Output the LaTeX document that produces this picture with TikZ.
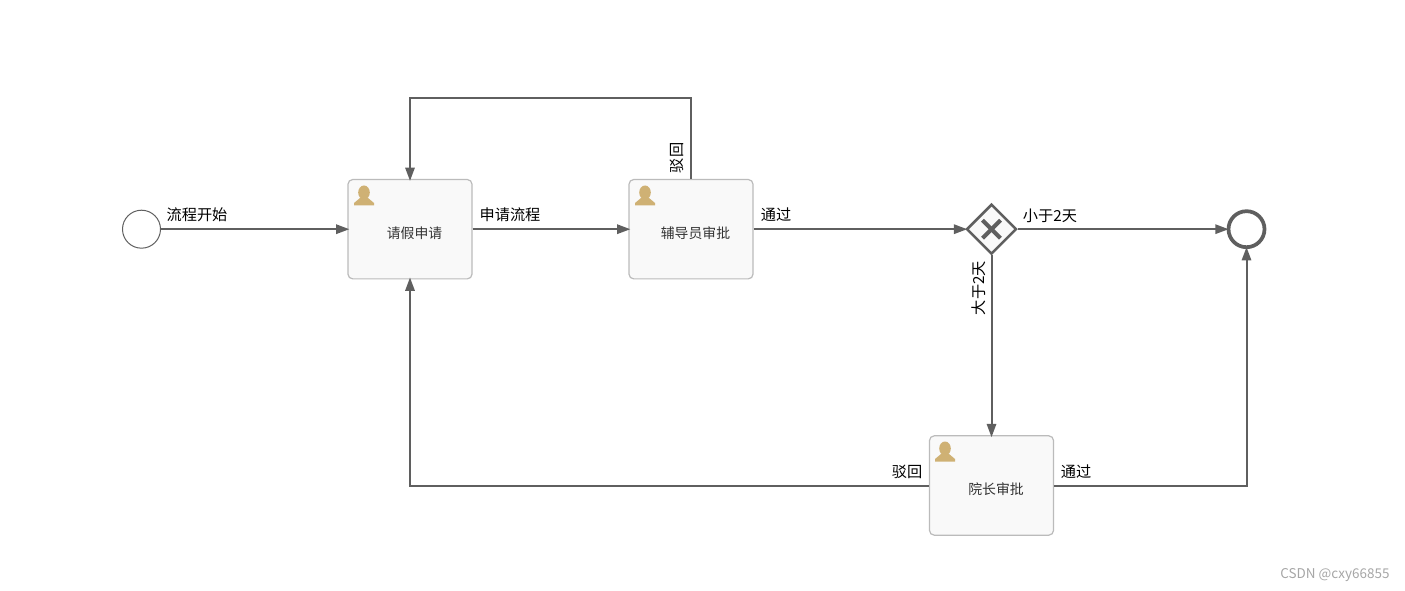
\documentclass[tikz,border=0pt]{standalone}
\usepackage{fontspec}
\setmainfont{Noto Sans CJK SC}
\usetikzlibrary{arrows.meta, shapes.geometric}
\definecolor{flowgray}{HTML}{5F5F5F}
\definecolor{taskgray}{HTML}{BBBBBB}
\definecolor{taskfill}{HTML}{F9F9F9}
\definecolor{usergold}{HTML}{CFB174}

\tikzset{
	task/.style={draw=taskgray, fill=taskfill, line width=0.9pt, rounded corners=3.5pt, minimum width=93pt, minimum height=74.5pt, inner sep=0pt},
	tasklabel/.style={font=\fontsize{10.4pt}{12pt}\selectfont, text=black!80, inner sep=0pt, xshift=3.4pt, yshift=-2.8pt},
	startevent/.style={circle, draw=flowgray, line width=0.75pt, minimum size=28.5pt, inner sep=0pt},
	endevent/.style={circle, draw=flowgray, line width=2.8pt, minimum size=27pt, inner sep=0pt},
	gateway/.style={diamond, draw=flowgray, fill=taskfill, line width=1.9pt, minimum size=37.5pt, inner sep=0pt},
	flow/.style={draw=flowgray, line width=1.5pt, shorten >=-1.5pt, -{Triangle[length=10pt, width=7pt]}},
	flowlabel/.style={font=\fontsize{11.4pt}{13pt}\selectfont, text=black, inner sep=0pt},
	gatemark/.style={draw=flowgray, line width=3pt},
	pics/usericon/.style={code={
		\fill[usergold] (0, -3.5) circle[x radius=5.8, y radius=7];
		\fill[usergold] (-10, 9.5) -- (-10, 7) -- (-4, 2) -- (4, 2) -- (10, 7) -- (10, 9.5) -- cycle;
	}}
}

\begin{document}
\begin{tikzpicture}[x=0.75pt, y=-0.75pt]
	\useasboundingbox (0, 0) rectangle (1405, 591);

	\node[startevent] (start) at (141.5, 229.2) {};
	\node[task] (apply) at (410, 229.2) {};
	\node[task] (tutor) at (691, 229.2) {};
	\node[gateway] (gate) at (991.5, 229.2) {};
	\node[endevent] (finish) at (1246.5, 229.2) {};
	\node[task] (dean) at (991.5, 485.5) {};

	\node[tasklabel] (applytext) at (apply) {请假申请};
	\node[tasklabel] (tutortext) at (tutor) {辅导员审批};
	\node[tasklabel] (deantext) at (dean) {院长审批};

	\draw[flow] (start) -- (apply);
	\draw[flow] (apply) -- (tutor);
	\draw[flow] (tutor) -- (gate);
	\draw[flow] (gate) -- (finish);
	\draw[flow] (gate) -- (dean);
	\draw[flow] (tutor.north) -- (tutor.north |- 0, 98) -| (apply.north);
	\draw[flow] (dean.west) -| (apply.south);
	\draw[flow] (dean.east) -| (finish.south);

	\draw[gatemark] (gate) ++(-9, -9) -- ++(18, 18);
	\draw[gatemark] (gate) ++(9, -9) -- ++(-18, 18);

	\pic at (364, 196) {usericon};
	\pic at (645, 196) {usericon};
	\pic at (945, 452) {usericon};

	% Labels
	\node[flowlabel] (lstart) at (197, 214.5) {流程开始};
	\node[flowlabel] (lapply) at (510, 214.5) {申请流程};
	\node[flowlabel] (lpass) at (776, 215) {通过};
	\node[flowlabel] (lless) at (1050, 215.5) {小于2天};
	\node[flowlabel, rotate=90] (lmore) at (978.5, 288) {大于2天};
	\node[flowlabel, rotate=90] (lback) at (677, 158) {驳回};
	\node[flowlabel] (lreject) at (907, 471.5) {驳回};
	\node[flowlabel] (ldeanpass) at (1076, 471.5) {通过};
	\node[font=\fontsize{10.1pt}{11pt}\selectfont, text=black!35, inner sep=0pt] (mark) at (1335, 575) {CSDN @cxy66855};
\end{tikzpicture}
\end{document}
